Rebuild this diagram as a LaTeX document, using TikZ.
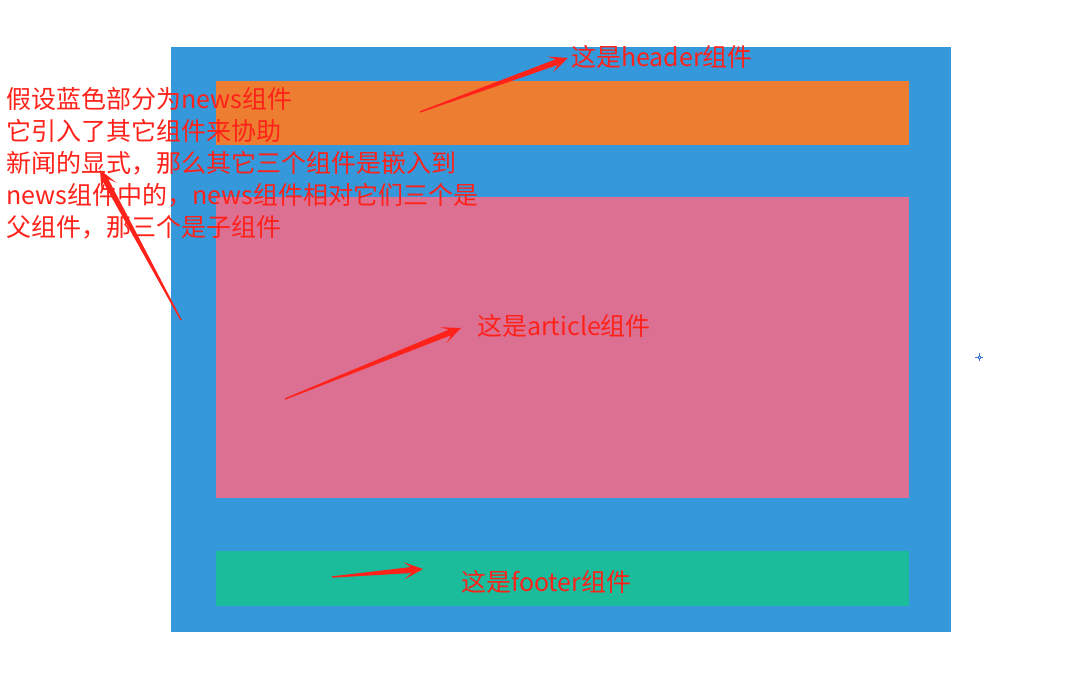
\documentclass[tikz,border=0pt]{standalone}
\usepackage{fontspec}
\setmainfont{Noto Sans CJK SC}
\usetikzlibrary{calc}
\definecolor{newsblue}{RGB}{53,152,219}
\definecolor{headorange}{RGB}{237,125,49}
\definecolor{artpink}{RGB}{220,112,146}
\definecolor{footgreen}{RGB}{26,188,156}
\definecolor{notered}{RGB}{255,34,26}
\definecolor{crossblue}{RGB}{60,120,210}
\newcommand{\taperarrow}[2]{%
  \coordinate (tN) at ($(#2)!12pt!(#1)$);
  \coordinate (tH) at ($(#2)!19pt!(#1)$);
  \fill[notered] ($(#1)!0.7pt!90:(#2)$) -- ($(tN)!3pt!90:(#2)$) -- ($(tH)!8.5pt!90:(#2)$) -- (#2)
    -- ($(tH)!8.5pt!-90:(#2)$) -- ($(tN)!3pt!-90:(#2)$) -- ($(#1)!0.7pt!-90:(#2)$) -- cycle;}
\tikzset{
  note/.style={text=notered, font=\fontsize{25}{32}\selectfont, inner sep=0pt, anchor=west}
}
\begin{document}
\begin{tikzpicture}[x=1pt,y=-1pt]
\useasboundingbox (0,0) rectangle (1089,700);
\fill[white] (0,0) rectangle (1089,700);
% containers
\fill[newsblue] (171,47) rectangle (951,632);
\fill[headorange] (216,81) rectangle (909,145);
\fill[artpink] (216,197) rectangle (909,498);
\fill[footgreen] (216,551) rectangle (909,606);
% labels
\node[note] (hdr) at (571,57) {这是header组件};
\node[note] (art) at (477,326) {这是article组件};
\node[note] (ftr) at (461,582) {这是footer组件};
\node[text=notered, font=\fontsize{25}{32}\selectfont, inner sep=0pt, anchor=north west, align=left] (desc) at (6,87)
  {假设蓝色部分为news组件\\它引入了其它组件来协助\\新闻的显式，那么其它三个组件是嵌入到\\news组件中的，news组件相对它们三个是\\父组件，那三个是子组件};
% arrows
\coordinate (ha) at (420,112); \coordinate (hb) at (568,58);
\coordinate (aa) at (285,399); \coordinate (ab) at (461,328);
\coordinate (fa) at (332,577); \coordinate (fb) at (423,569);
\coordinate (na) at (181,320); \coordinate (nb) at (100,170);
\taperarrow{ha}{hb}
\taperarrow{aa}{ab}
\taperarrow{fa}{fb}
\taperarrow{na}{nb}
% small cross marker
\coordinate (cx) at (979,357);
\draw[crossblue, line width=0.8pt] ($(cx)+(-4,0)$) -- ($(cx)+(4,0)$) ($(cx)+(0,-4)$) -- ($(cx)+(0,4)$);
\draw[crossblue, fill=white, line width=0.6pt] ($(cx)+(-1.2,-1.2)$) rectangle ($(cx)+(1.2,1.2)$);
\end{tikzpicture}
\end{document}
